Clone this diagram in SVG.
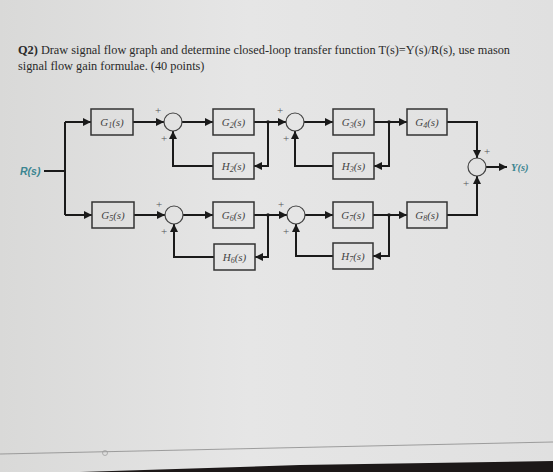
<svg xmlns="http://www.w3.org/2000/svg" width="553" height="472" viewBox="0 0 553 472">
<defs>
<linearGradient id="bg" x1="0" y1="0" x2="1" y2="0">
<stop offset="0" stop-color="#d9d9d8"/>
<stop offset="0.45" stop-color="#e6e6e6"/>
<stop offset="1" stop-color="#e0e0e0"/>
</linearGradient>
<marker id="ar" viewBox="0 0 10 10" refX="10" refY="5" markerWidth="4" markerHeight="4" orient="auto" markerUnits="strokeWidth">
<path d="M0,0 L10,5 L0,10 z" fill="#1a1a1a"/>
</marker>
<style>
.title{font-family:"Liberation Serif",serif;font-size:12.3px;fill:#2a2a2a}
.lbl{font-family:"Liberation Serif",serif;font-style:italic;font-weight:normal;font-size:11px;fill:#444}
.box{fill:none;stroke:#333;stroke-width:1.5}
.sum{fill:none;stroke:#444;stroke-width:1.2}
.w{fill:none;stroke:#1a1a1a;stroke-width:2}
.wa{fill:none;stroke:#1a1a1a;stroke-width:2;marker-end:url(#ar)}
.pl{font-family:"Liberation Serif",serif;font-size:11px;fill:#555}
.sig{font-style:italic;font-weight:bold;font-size:10.5px;fill:#3b8590}
</style>
</defs>
<rect width="553" height="472" fill="url(#bg)"/>
<line x1="0" y1="454" x2="553" y2="442" stroke="#8a8a8a" stroke-width="0.8"/>
<circle cx="105" cy="453" r="2.5" fill="none" stroke="#999" stroke-width="0.7"/>
<polygon points="80,472 553,472 553,461 300,465" fill="#1c1818"/>

<g id="title">
<text class="title" x="18" y="54"><tspan font-weight="bold">Q2)</tspan> Draw signal flow graph and determine closed-loop transfer function T(s)=Y(s)/R(s), use mason</text>
<text class="title" x="18" y="70">signal flow gain formulae. (40 points)</text>
</g>

<g id="connectors">
<path class="w" d="M44,171 H65 M65,122 V215"/>
<path class="wa" d="M65,122 H91"/>
<path class="wa" d="M65,215 H92"/>
<path class="wa" d="M133,122 H164"/>
<path class="wa" d="M182,122 H213"/>
<path class="wa" d="M254,122 H286"/>
<path class="wa" d="M268,122 V166 H254"/>
<path class="wa" d="M213,166 H173 V131"/>
<path class="wa" d="M304,122 H333"/>
<path class="wa" d="M374,122 H407"/>
<path class="wa" d="M389,122 V166 H374"/>
<path class="wa" d="M333,166 H295 V131"/>
<path class="wa" d="M447,122 H477 V158"/>
<path class="wa" d="M486,167 H507"/>
<path class="wa" d="M134,215 H165"/>
<path class="wa" d="M183,215 H213"/>
<path class="wa" d="M254,215 H287"/>
<path class="wa" d="M268,215 V257 H255"/>
<path class="wa" d="M214,257 H174 V224"/>
<path class="wa" d="M305,215 H333"/>
<path class="wa" d="M373,215 H407"/>
<path class="wa" d="M389,215 V256 H373"/>
<path class="wa" d="M333,256 H296 V224"/>
<path class="wa" d="M447,215 H477 V176"/>
<circle cx="268" cy="122" r="1.8" fill="#1a1a1a"/>
<circle cx="389" cy="122" r="1.8" fill="#1a1a1a"/>
<circle cx="268" cy="215" r="1.8" fill="#1a1a1a"/>
<circle cx="389" cy="215" r="1.8" fill="#1a1a1a"/>
</g>

<g id="R"><text class="sig" x="20" y="175" font-family="Liberation Sans,sans-serif">R(s)</text></g>
<g id="Y"><text class="sig" x="511" y="171" font-family="Liberation Serif,serif">Y(s)</text></g>

<g id="G1"><rect class="box" x="91" y="109" width="42" height="26"/><text class="lbl" x="112" y="126" text-anchor="middle">G<tspan font-size="8" dy="2">1</tspan><tspan dy="-2">(s)</tspan></text></g>
<g id="S1"><circle class="sum" cx="173" cy="122" r="9"/><text class="pl" x="155" y="114">+</text><text class="pl" x="161" y="142">+</text></g>
<g id="G2"><rect class="box" x="213" y="109" width="41" height="26"/><text class="lbl" x="233.5" y="126" text-anchor="middle">G<tspan font-size="8" dy="2">2</tspan><tspan dy="-2">(s)</tspan></text></g>
<g id="H2"><rect class="box" x="213" y="153" width="41" height="26"/><text class="lbl" x="233.5" y="170" text-anchor="middle">H<tspan font-size="8" dy="2">2</tspan><tspan dy="-2">(s)</tspan></text></g>
<g id="S2"><circle class="sum" cx="295" cy="122" r="9"/><text class="pl" x="277" y="114">+</text><text class="pl" x="283" y="142">+</text></g>
<g id="G3"><rect class="box" x="333" y="109" width="41" height="26"/><text class="lbl" x="353.5" y="126" text-anchor="middle">G<tspan font-size="8" dy="2">3</tspan><tspan dy="-2">(s)</tspan></text></g>
<g id="H3"><rect class="box" x="333" y="153" width="41" height="26"/><text class="lbl" x="353.5" y="170" text-anchor="middle">H<tspan font-size="8" dy="2">3</tspan><tspan dy="-2">(s)</tspan></text></g>
<g id="G4"><rect class="box" x="407" y="109" width="40" height="26"/><text class="lbl" x="427" y="126" text-anchor="middle">G<tspan font-size="8" dy="2">4</tspan><tspan dy="-2">(s)</tspan></text></g>
<g id="S3"><circle class="sum" cx="477" cy="167" r="9"/><text class="pl" x="484" y="155">+</text><text class="pl" x="463" y="187">+</text></g>

<g id="G5"><rect class="box" x="92" y="202" width="42" height="26"/><text class="lbl" x="113" y="219" text-anchor="middle">G<tspan font-size="8" dy="2">5</tspan><tspan dy="-2">(s)</tspan></text></g>
<g id="S4"><circle class="sum" cx="174" cy="215" r="9"/><text class="pl" x="156" y="208">+</text><text class="pl" x="161" y="235">+</text></g>
<g id="G6"><rect class="box" x="213" y="202" width="41" height="26"/><text class="lbl" x="233.5" y="219" text-anchor="middle">G<tspan font-size="8" dy="2">6</tspan><tspan dy="-2">(s)</tspan></text></g>
<g id="H6"><rect class="box" x="214" y="244" width="41" height="26"/><text class="lbl" x="234.5" y="261" text-anchor="middle">H<tspan font-size="8" dy="2">6</tspan><tspan dy="-2">(s)</tspan></text></g>
<g id="S5"><circle class="sum" cx="296" cy="215" r="9"/><text class="pl" x="278" y="208">+</text><text class="pl" x="283" y="235">+</text></g>
<g id="G7"><rect class="box" x="333" y="202" width="40" height="26"/><text class="lbl" x="353" y="219" text-anchor="middle">G<tspan font-size="8" dy="2">7</tspan><tspan dy="-2">(s)</tspan></text></g>
<g id="H7"><rect class="box" x="333" y="243" width="40" height="26"/><text class="lbl" x="353" y="260" text-anchor="middle">H<tspan font-size="8" dy="2">7</tspan><tspan dy="-2">(s)</tspan></text></g>
<g id="G8"><rect class="box" x="407" y="202" width="40" height="26"/><text class="lbl" x="427" y="219" text-anchor="middle">G<tspan font-size="8" dy="2">8</tspan><tspan dy="-2">(s)</tspan></text></g>
</svg>
